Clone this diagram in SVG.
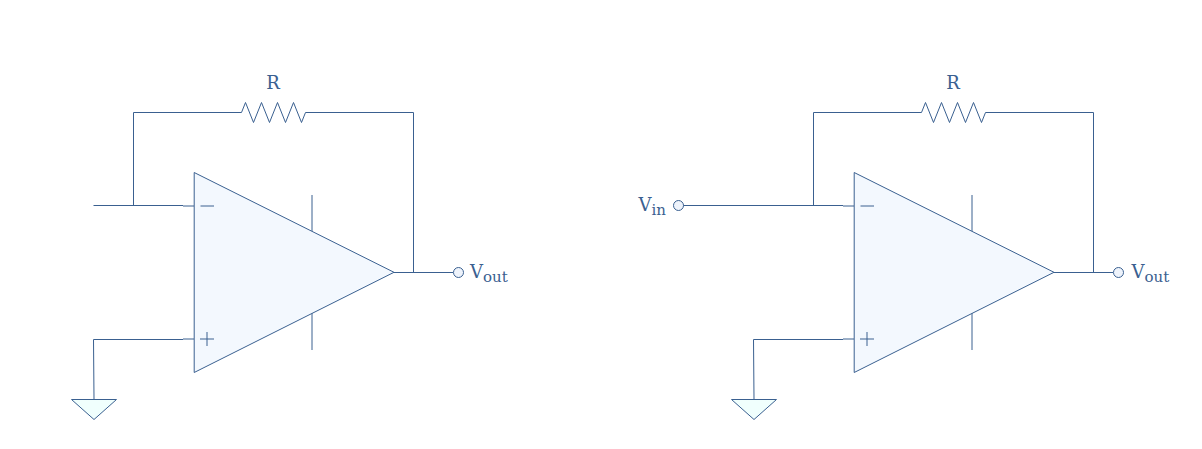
<svg xmlns="http://www.w3.org/2000/svg" width="1202" height="449" viewBox="0 0 1202 449">
<style>
.w{fill:none;stroke:#3a6090;stroke-width:1}
.s{fill:none;stroke:#3a6090;stroke-width:1}
.tri{fill:#f3f8fe;stroke:#3a6090;stroke-width:1}
.g{fill:#f0fffd;stroke:#3a6090;stroke-width:1}
.c{fill:#eef3fb;stroke:#3a6090;stroke-width:1}
text{font-family:"DejaVu Serif",serif;fill:#3a6090;font-size:18px}
.sub{font-size:15px}
</style>
<defs>
<polyline id="rz" class="w" points="0,0 4,-10 12,10 20,-10 28,10 36,-10 44,10 52,-10 60,10 64,0"/>
</defs>
<g id="connectors">
<path class="w" d="M93.500 205.500H183M133.500 205.500V112.500H241.500M305.500 112.500H413.500V272.500M394 272.500H453M183 339.500H93.500L94 399"/>
<path class="w" d="M683 205.500H843M813.500 205.500V112.500H921.500M985.500 112.500H1093.500V272.500M1054 272.500H1113M843 339.500H753.500L754 399"/>
</g>
<g id="opamp-left">
<path class="s" d="M312 195V231M312 313V350M183 206H194M183 339H194"/>
<polygon class="tri" points="194.200,172.500 394,272.300 194.200,372.500"/>
<path class="s" d="M200.500 206H214M200 339H214M207 332V346"/>
</g>
<g id="opamp-right">
<path class="s" d="M972 195V231M972 313V350M843 206H854M843 339H854"/>
<polygon class="tri" points="854.200,172.500 1054,272.300 854.200,372.500"/>
<path class="s" d="M860.500 206H874M860 339H874M867 332V346"/>
</g>
<g id="resistor-left"><use href="#rz" x="241.500" y="112.500"/><text x="273" y="89" text-anchor="middle">R</text></g>
<g id="resistor-right"><use href="#rz" x="921.500" y="112.500"/><text x="953" y="89" text-anchor="middle">R</text></g>
<g id="ground-left"><polygon class="g" points="71.500,399.500 116.500,399.500 94,419.500"/></g>
<g id="ground-right"><polygon class="g" points="731.500,399.500 776.500,399.500 754,419.500"/></g>
<g id="vout-left"><circle class="c" cx="458.500" cy="272.500" r="5"/><text x="470" y="278">V<tspan class="sub" dy="4">out</tspan></text></g>
<g id="vout-right"><circle class="c" cx="1118.500" cy="272.500" r="5"/><text x="1131.500" y="278">V<tspan class="sub" dy="4">out</tspan></text></g>
<g id="vin"><circle class="c" cx="678.500" cy="205.500" r="5"/><text x="638.500" y="211">V<tspan class="sub" dy="4">in</tspan></text></g>
</svg>
